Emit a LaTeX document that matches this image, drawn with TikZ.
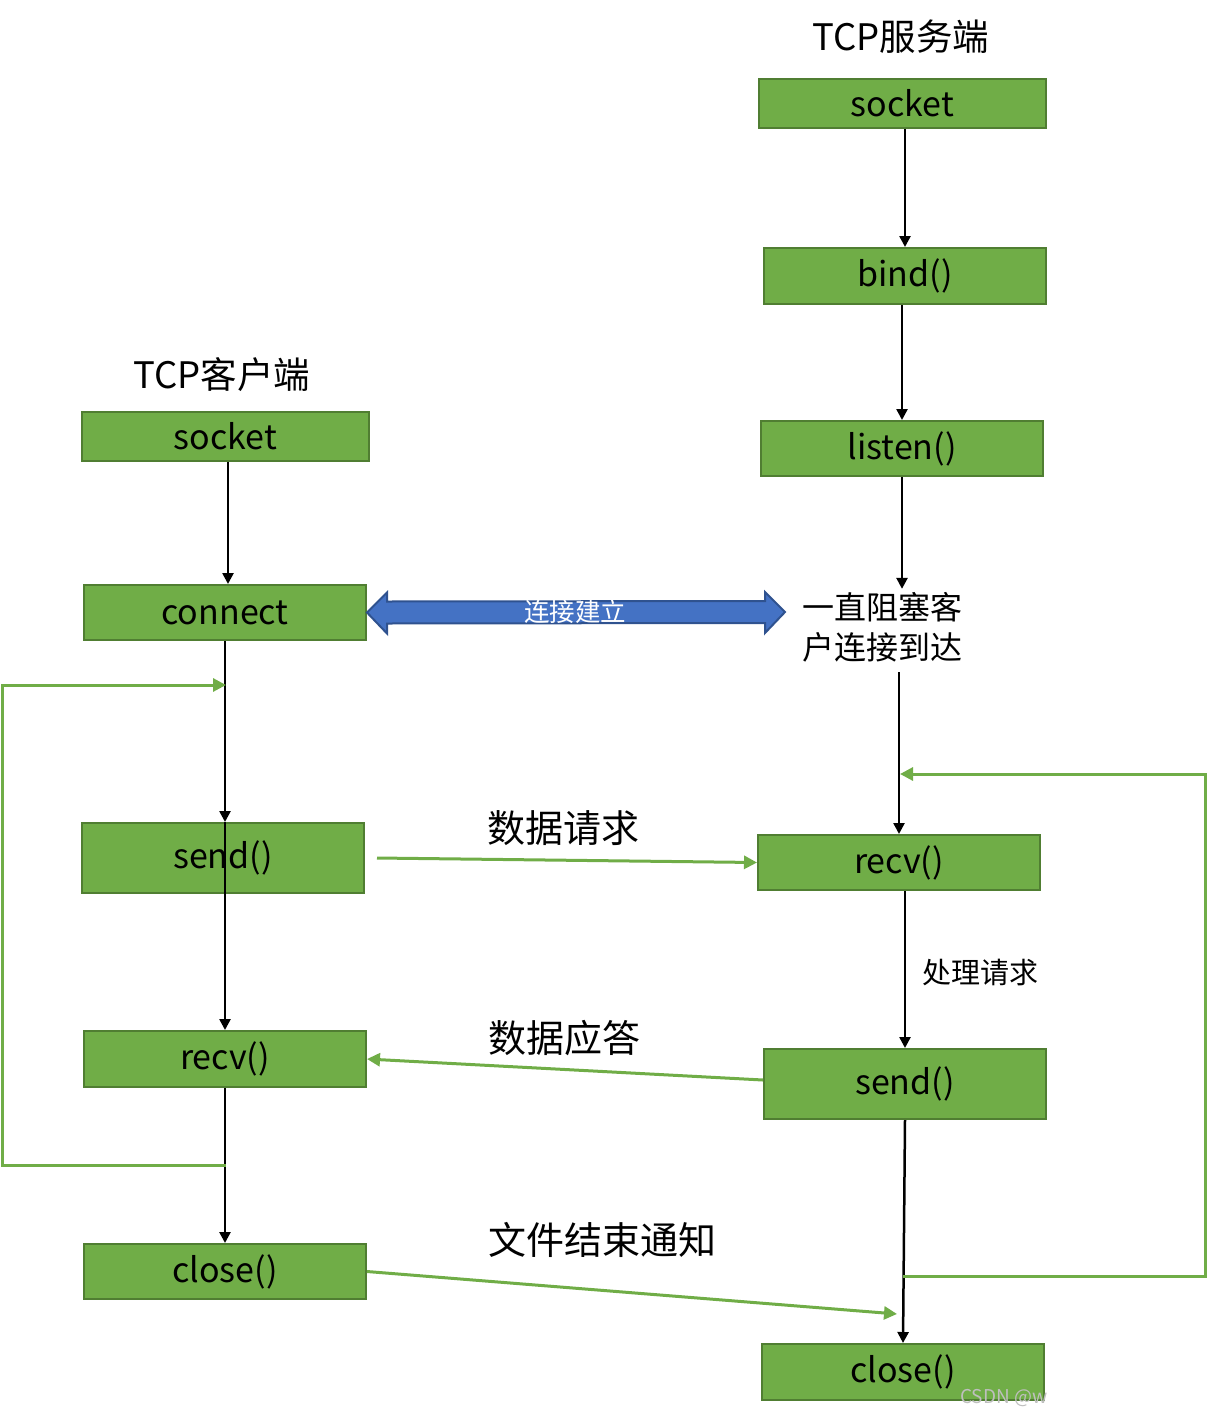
\documentclass[tikz,border=0pt]{standalone}
\usepackage{fontspec}
\setmainfont{Noto Sans CJK SC}
\usetikzlibrary{arrows.meta,calc}
\definecolor{boxgreen}{HTML}{70AD47}
\definecolor{boxedge}{HTML}{507E32}
\definecolor{linkblue}{HTML}{4472C4}
\definecolor{linkedge}{HTML}{2F528F}
\begin{document}
\begin{tikzpicture}[
  x=1pt, y=-1pt,
  font=\fontsize{34}{40}\selectfont,
  box/.style={rectangle, draw=boxedge, line width=2pt, fill=boxgreen, align=center,
    minimum width=282, minimum height=55, inner sep=0pt},
  ttl/.style={font=\fontsize{36.5}{42}\selectfont},
  lbl/.style={font=\fontsize{38}{44}\selectfont},
  a/.style={line width=2.5pt, -{Triangle[width=11pt,length=11pt]}},
  g/.style={draw=boxgreen, line width=3pt, -{Triangle[width=13pt,length=13pt]}},
  link/.style={draw=linkedge, line width=2pt, fill=linkblue, line join=miter}
]
\useasboundingbox (0,0) rectangle (1208,1418);
% server side
\node[ttl] (tsrv) at (901,37) {TCP服务端};
\node[box, minimum width=287, minimum height=49] (sockS) at (902.5,103.5) {socket};
\node[box, minimum height=56] (bindS) at (905,276) {bind()};
\node[box] (listenS) at (902,448.5) {listen()};
\node[align=left, inner sep=0pt, font=\fontsize{32}{40}\selectfont] (wait) at (882,627) {一直阻塞客\\户连接到达};
\node[box] (recvS) at (899,862.5) {recv()};
\node[box, minimum height=70] (sendS) at (905,1084) {send()};
\node[box, minimum height=56] (closeS) at (903,1372) {close()};
% client side
\node[ttl] (tcli) at (222,375) {TCP客户端};
\node[box, minimum width=287, minimum height=49] (sockC) at (225.5,436.5) {socket};
\node[box] (connC) at (225,612.5) {connect};
\node[box, minimum height=70] (sendC) at (223,858) {send()};
\node[box, minimum height=56] (recvC) at (225,1059) {recv()};
\node[box] (closeC) at (225,1271.5) {close()};
% labels
\node[lbl] (lreq) at (563,828) {数据请求};
\node[lbl] (lrep) at (564,1038) {数据应答};
\node[lbl] (lfin) at (602,1240) {文件结束通知};
\node[font=\fontsize{29}{34}\selectfont] (lproc) at (980,972) {处理请求};
\node[anchor=west, text=black!25, inner sep=0pt, font=\fontsize{19}{22}\selectfont] (wm) at (960,1398) {CSDN @w};
% server flow
\draw[a] (sockS.south -| bindS) -- (bindS.north);
\draw[a] (bindS.south -| listenS) -- (listenS.north);
\draw[a] (listenS.south) -- ([yshift=3pt]listenS.south |- wait.north);
\draw[a] ([yshift=-10pt]wait.south -| recvS) -- (recvS.north);
\draw[a] (recvS.south -| sendS) -- (sendS.north);
\draw[a] (sendS.south) -- (closeS.north);
% client flow
\draw[a] ([xshift=2.5pt]sockC.south) -- ([xshift=3pt]connC.north);
\draw[a] (connC.south) -- (connC.south |- sendC.north);
\draw[a] (connC.south |- sendC.north) -- (recvC.north);
\draw[a] (recvC.south) -- (recvC.south |- closeC.north);
% connection set-up
\coordinate (tipL) at (connC.east);
\coordinate (tipR) at (785,612);
\draw[link] (tipL) -- ++(20,-20) -- ++(0,9) -- ($(tipR)+(-20,-11)$) -- ++(0,-9)
  -- (tipR) -- ++(-20,21) -- ++(0,-10) -- ($(tipL)+(20,11)$) -- ++(0,10) -- cycle;
\node[text=white, font=\fontsize{25.5}{30}\selectfont, inner sep=0pt] (lconn) at (575,612) {连接建立};
% data
\draw[g] ([xshift=12pt]sendC.east) -- (recvS.west);
\draw[g] ([yshift=4pt]sendS.west) -- (recvC.east);
\coordinate (fin) at (897,1314);
\draw[g] (closeC.east) -- (fin);
% loops
\coordinate (cl1) at (226,1165);
\coordinate (cl2) at (2,685);
\coordinate (cl3) at (226,685);
\draw[g] (cl1) -| (cl2) -- (cl3);
\coordinate (sl1) at (903,1276);
\coordinate (sl2) at (1205,774);
\coordinate (sl3) at (900,774);
\draw[g] (sl1) -| (sl2) -- (sl3);
\end{tikzpicture}
\end{document}
